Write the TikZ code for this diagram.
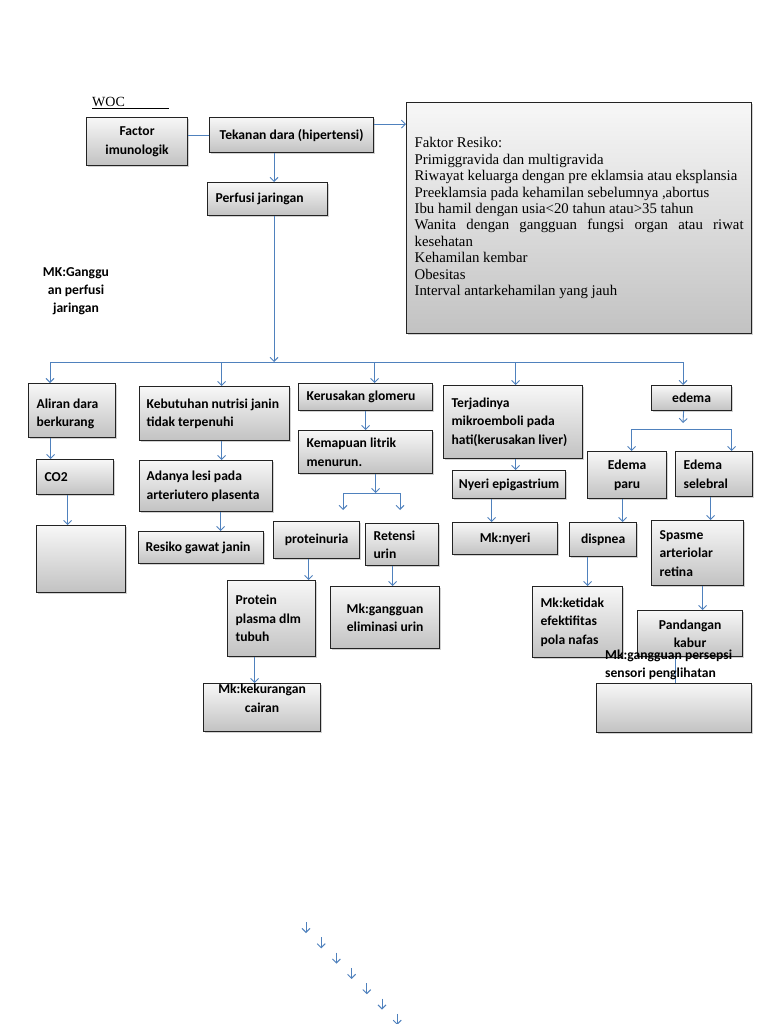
\documentclass[tikz,border=0pt]{standalone}
\usepackage{fontspec}
\setmainfont{Carlito}
\newfontfamily\timesfont{Liberation Serif}
\usetikzlibrary{arrows.meta, positioning, shadows}
\definecolor{linkBlue}{RGB}{79,129,189}
\definecolor{boxTop}{RGB}{247,247,247}
\definecolor{boxBottom}{RGB}{194,194,194}
\definecolor{boxBorder}{RGB}{35,35,35}

\begin{document}
\begin{tikzpicture}[x=1pt, y=-1pt,
		% kotak abu-abu dengan bayangan
		wocBox/.style={
			draw=boxBorder,
			line width=1.2pt,
			top color=boxTop,
			bottom color=boxBottom,
			drop shadow={shadow xshift=1.5pt, shadow yshift=-1.5pt, opacity=0.35},
			anchor=north west,
			inner sep=0pt,
			font=\fontsize{13.6}{18.5}\selectfont\bfseries
		},
		leftText/.style={align=flush left, text width=#1},
		link/.style={draw=linkBlue, line width=0.9pt},
		linkArrow/.style={link, -{Straight Barb[length=4pt, width=8pt]}}
		]
		
		\fill[white] (0,0) rectangle (768,1024);
		\useasboundingbox (0,0) rectangle (768,1024);
		
		% judul
		\node[anchor=base west, inner sep=0pt, font=\timesfont\fontsize{14}{16}\selectfont] (woc) at (92,107) {\underline{WOC\hspace*{44pt}}};
		
		% baris atas
		\node[wocBox, minimum width=101pt, minimum height=48pt, align=center] (factor) at (86,117) {Factor\\imunologik};
		\node[wocBox, minimum width=164pt, minimum height=35pt, align=center] (tekanan) at (209,117) {Tekanan dara (hipertensi)};
		\node[wocBox, minimum width=345pt, minimum height=231pt, leftText=329pt,
			font=\timesfont\fontsize{14.8}{16.4}\selectfont] (resiko) at (406,102) {
			Faktor Resiko:\\
			Primiggravida dan multigravida\\
			Riwayat keluarga dengan pre eklamsia atau eksplansia\\
			Preeklamsia pada kehamilan sebelumnya ,abortus\\
			Ibu hamil dengan usia<20 tahun atau>35 tahun\\
			\makebox[\hsize][l]{Wanita\hfill dengan\hfill gangguan\hfill fungsi\hfill organ\hfill atau\hfill riwat}\\
			kesehatan\\
			Kehamilan kembar\\
			Obesitas\\
			Interval antarkehamilan yang jauh
		};
		\node[wocBox, minimum width=120pt, minimum height=33pt, leftText=104pt] (perfusi) at (207,182) {Perfusi jaringan};
		\node[align=center, font=\fontsize{13.6}{18}\selectfont\bfseries] (mkPerfusi) at (76,291) {MK:Ganggu\\an perfusi\\jaringan};
		
		% cabang kiri
		\node[wocBox, minimum width=87pt, minimum height=54pt, leftText=71pt] (aliran) at (28,383) {\rule{0pt}{16pt}Aliran dara\\berkurang};
		\node[wocBox, minimum width=77pt, minimum height=35pt, leftText=61pt] (co2) at (36,459) {CO2};
		\node[wocBox, minimum width=89pt, minimum height=67pt] (kosongA) at (36,525) {};
		
		% cabang janin
		\node[wocBox, minimum width=150pt, minimum height=54pt, leftText=136pt] (kebutuhan) at (139,386) {Kebutuhan nutrisi janin\\tidak terpenuhi};
		\node[wocBox, minimum width=133pt, minimum height=51pt, leftText=119pt] (lesi) at (139,460) {Adanya lesi pada\\arteriutero plasenta};
		\node[wocBox, minimum width=125pt, minimum height=32pt, leftText=111pt] (gawat) at (138,531) {Resiko gawat janin};
		
		% cabang ginjal
		\node[wocBox, minimum width=134pt, minimum height=27pt, leftText=118pt] (glomeru) at (298,383) {Kerusakan glomeru};
		\node[wocBox, minimum width=134pt, minimum height=43pt, leftText=118pt] (litrik) at (298,430) {Kemapuan litrik\\menurun.};
		\node[wocBox, minimum width=86pt, minimum height=37pt, align=center] (proteinuria) at (273,521) {proteinuria};
		\node[wocBox, minimum width=73pt, minimum height=42pt, leftText=57pt] (retensi) at (365,523) {Retensi\\urin};
		\node[wocBox, minimum width=88pt, minimum height=76pt, leftText=72pt] (plasma) at (227,580) {Protein\\plasma dlm\\tubuh};
		\node[wocBox, minimum width=117pt, minimum height=48pt, align=center] (cairan) at (203,683) {Mk:kekurangan\\cairan\\[0pt]\rule{0pt}{10pt}};
		\node[wocBox, minimum width=109pt, minimum height=62pt, align=center] (eliminasi) at (330,586) {Mk:gangguan\\eliminasi urin};
		
		% cabang hati
		\node[wocBox, minimum width=139pt, minimum height=73pt, leftText=123pt] (liver) at (443,385) {Terjadinya\\mikroemboli pada\\hati(kerusakan liver)};
		\node[wocBox, minimum width=113pt, minimum height=28pt, align=center] (epigastrium) at (452,470) {Nyeri epigastrium};
		\node[wocBox, minimum width=105pt, minimum height=32pt, align=center] (nyeri) at (452,522) {Mk:nyeri};
		
		% cabang edema
		\node[wocBox, minimum width=80pt, minimum height=25pt, align=center] (edema) at (651,385) {edema};
		\node[wocBox, minimum width=79pt, minimum height=47pt, align=center] (paru) at (587,451) {Edema\\paru};
		\node[wocBox, minimum width=77pt, minimum height=45pt, leftText=61pt] (selebral) at (675,451) {Edema\\selebral};
		\node[wocBox, minimum width=67pt, minimum height=34pt, align=center] (dispnea) at (569,522) {dispnea};
		\node[wocBox, minimum width=90pt, minimum height=71pt, leftText=74pt] (nafas) at (532,586) {Mk:ketidak\\efektifitas\\pola nafas};
		\node[wocBox, minimum width=92pt, minimum height=65pt, leftText=76pt] (spasme) at (651,520) {Spasme\\arteriolar\\retina};
		\node[wocBox, minimum width=105pt, minimum height=46pt, align=center] (kabur) at (637,610) {Pandangan\\kabur};
		\node[wocBox, minimum width=155pt, minimum height=49pt] (kosongB) at (596,683) {};
		
		% titik cabang
		\coordinate (trunk) at (274,362);
		\coordinate (busL) at (50,362);
		\coordinate (busR) at (683,362);
		\coordinate (splitL) at (343,493);
		\coordinate (splitR) at (400,493);
		\coordinate (edemaSplit) at (683,429);
		
		% panah
		\draw[link] (factor.east |- tekanan.west) -- (tekanan.west);
		\draw[linkArrow] ([yshift=11pt]tekanan.east) -- ([yshift=11pt]tekanan.east -| resiko.west);
		\draw[linkArrow] (tekanan.south -| trunk) -- (perfusi.north -| trunk);
		\draw[linkArrow] (perfusi.south -| trunk) -- (trunk);
		\draw[link] (busL) -- (busR);
		\draw[linkArrow] (busL) -- (busL |- aliran.north);
		\draw[linkArrow] ([xshift=7pt]kebutuhan.north |- trunk) -- ([xshift=7pt]kebutuhan.north);
		\draw[linkArrow] ([xshift=9pt]glomeru.north |- trunk) -- ([xshift=9pt]glomeru.north);
		\draw[linkArrow] ([xshift=2.5pt]liver.north |- trunk) -- ([xshift=2.5pt]liver.north);
		\draw[linkArrow] (busR) -- (busR |- edema.north);
		
		\draw[linkArrow] ([xshift=-21.5pt]aliran.south) -- ([xshift=-21.5pt]aliran.south |- co2.north);
		\draw[linkArrow] ([xshift=-7.5pt]co2.south) -- ([xshift=-7.5pt]co2.south |- kosongA.north);
		\draw[linkArrow] ([xshift=7pt]kebutuhan.south) -- ([xshift=7pt]kebutuhan.south |- lesi.north);
		\draw[linkArrow] ([xshift=14.5pt]lesi.south) -- ([xshift=14.5pt]lesi.south |- gawat.north);
		
		\draw[linkArrow] (glomeru.south) -- (litrik.north);
		\draw[linkArrow] ([xshift=10pt]litrik.south) -- ([xshift=10pt]litrik.south |- splitL);
		\draw[link] (splitL) -- (splitR);
		\draw[linkArrow] (splitL) -- ++(0,17);
		\draw[linkArrow] (splitR) -- ++(0,17);
		\draw[linkArrow] ([xshift=-8pt]proteinuria.south) -- ([xshift=-8pt]proteinuria.south |- plasma.north);
		\draw[linkArrow] ([xshift=-17pt]plasma.south) -- ([xshift=-17pt]plasma.south |- cairan.north);
		\draw[linkArrow] ([xshift=-9.5pt]retensi.south) -- ([xshift=-9.5pt]retensi.south |- eliminasi.north);
		
		\draw[linkArrow] ([xshift=2.5pt]liver.south) -- ([xshift=2.5pt]liver.south |- epigastrium.north);
		\draw[linkArrow] ([xshift=-17.5pt]epigastrium.south) -- ([xshift=-17.5pt]epigastrium.south |- nyeri.north);
		
		\draw[linkArrow] ([xshift=-8pt]edema.south) -- ([yshift=6pt]edemaSplit);
		\draw[linkArrow] (edemaSplit) -| ([xshift=4.5pt]paru.north);
		\draw[linkArrow] (edemaSplit) -| ([xshift=17.5pt]selebral.north);
		\draw[linkArrow] ([xshift=-4.5pt]paru.south) -- ([xshift=-4.5pt]paru.south |- dispnea.north);
		\draw[linkArrow] ([xshift=-3.5pt]selebral.south) -- ([xshift=-3.5pt]selebral.south |- spasme.north);
		\draw[linkArrow] ([xshift=-15.5pt]dispnea.south) -- ([xshift=-15.5pt]dispnea.south |- nafas.north);
		\draw[linkArrow] ([xshift=5pt]spasme.south) -- ([xshift=5pt]spasme.south |- kabur.north);
		\draw[link] ([xshift=-14.5pt]kabur.south) -- ([xshift=-14.5pt]kabur.south |- kosongB.north);
		
		\node[anchor=north west, inner sep=0pt, leftText=150pt, font=\fontsize{13.6}{18}\selectfont\bfseries] (mkPersepsi) at (605,650) {Mk:gangguan persepsi\\sensori penglihatan};
		
		% panah lepas di bawah
		\foreach \k in {0,...,6} {
			\coordinate (stray\k) at (306+15.2*\k, 922+15.3*\k);
			\draw[linkArrow] (stray\k) -- ++(0,11);
		}
		
	\end{tikzpicture}
\end{document}
